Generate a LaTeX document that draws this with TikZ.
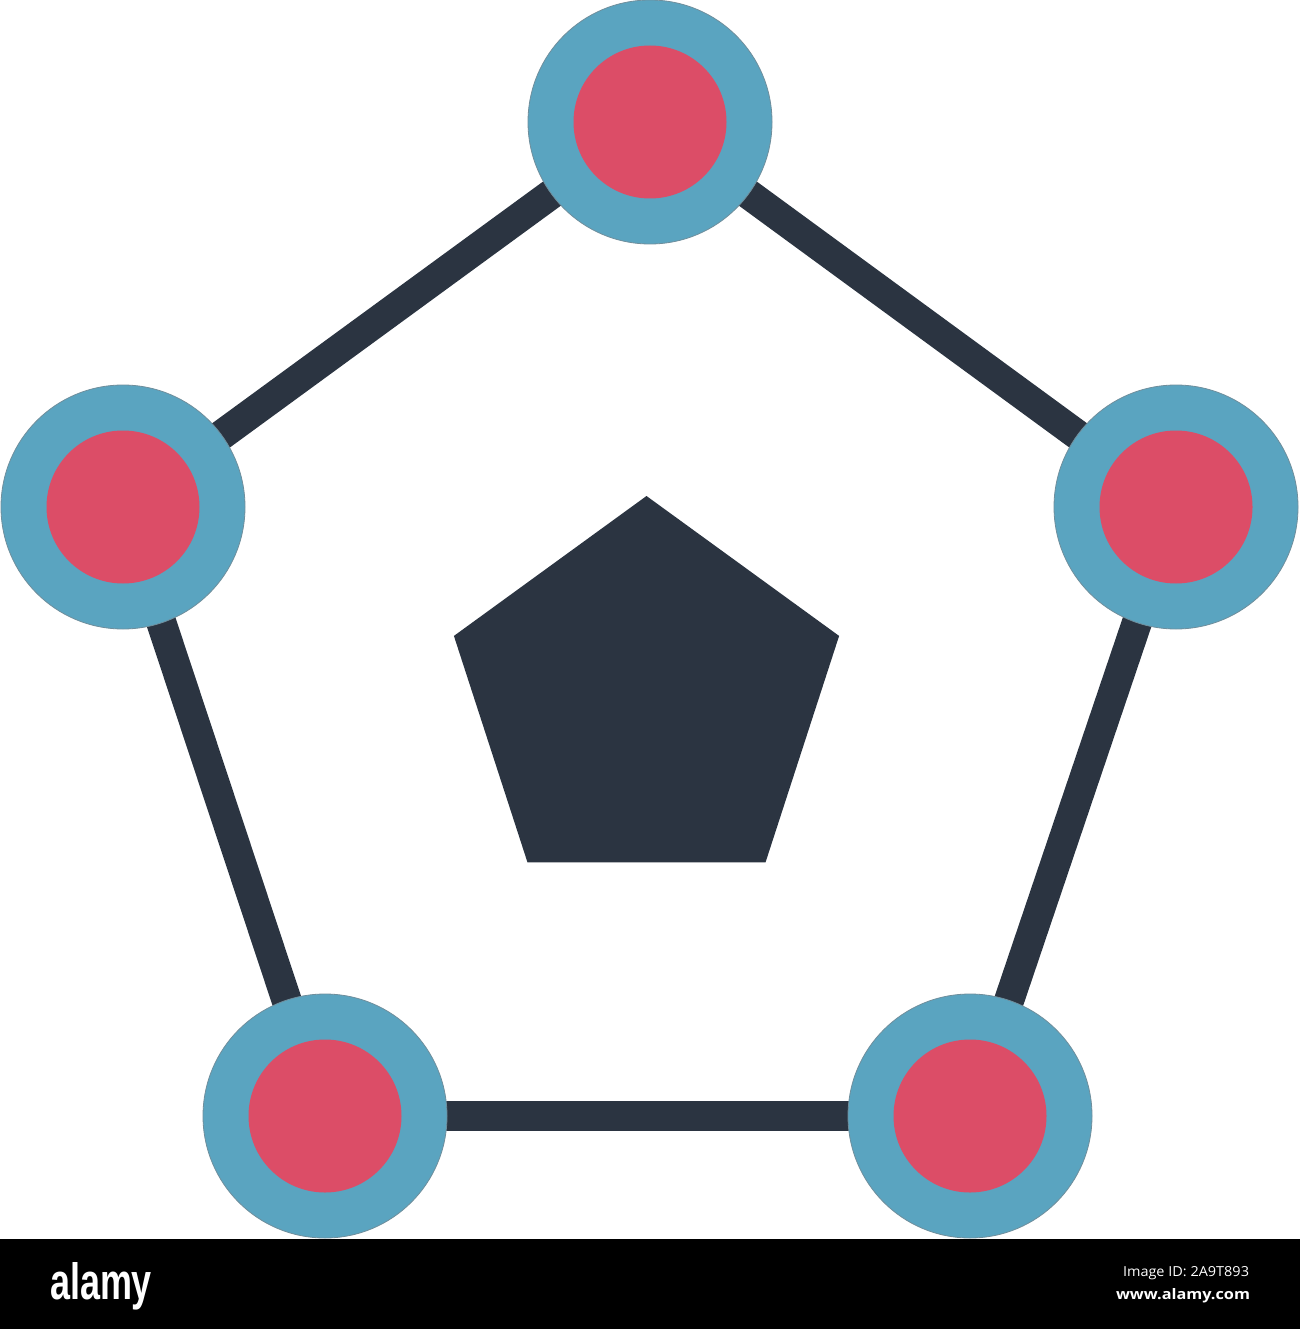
\documentclass[tikz,border=0pt]{standalone}
\usepackage{fontspec}
\setmainfont{Liberation Sans}
\newfontfamily\idfont{Open Sans}
\usetikzlibrary{shapes.geometric}
\definecolor{ringblue}{HTML}{5AA4C0}
\definecolor{corered}{HTML}{DC4D67}
\definecolor{navy}{HTML}{2B3441}
\definecolor{rimgray}{HTML}{6F8E9C}
\pgfdeclarelayer{paper}
\pgfdeclarelayer{background}
\pgfsetlayers{paper,background,main}
\tikzset{
  ring/.style={circle, fill=ringblue, draw=rimgray, line width=0.8pt, minimum size=244pt, inner sep=0pt, outer sep=0pt},
  core/.style={circle, fill=corered, minimum size=153pt, inner sep=0pt, outer sep=0pt},
  link/.style={draw=navy, line width=30pt, shorten <=-12pt, shorten >=-12pt},
  hubshape/.style={regular polygon, regular polygon sides=5, fill=navy, minimum size=405pt, inner sep=0pt, outer sep=0pt},
  bartext/.style={text=white, inner sep=0pt, outer sep=0pt, anchor=base west}
}
\begin{document}
\begin{tikzpicture}[x=1pt,y=-1pt]
  \useasboundingbox (0,0) rectangle (1300,1329);
  \begin{pgfonlayer}{paper}
    \fill[white] (0,0) rectangle (1300,1240);
  \end{pgfonlayer}
  % nodes
  \node[ring] (n1) at (650,122) {};
  \node[ring] (n2) at (1176,507) {};
  \node[ring] (n3) at (970,1116) {};
  \node[ring] (n4) at (325,1116) {};
  \node[ring] (n5) at (123,507) {};
  \node[core] (c1) at (n1) {};
  \node[core] (c2) at (n2) {};
  \node[core] (c3) at (n3) {};
  \node[core] (c4) at (n4) {};
  \node[core] (c5) at (n5) {};
  % connectors
  \begin{pgfonlayer}{background}
    \path[link] (n1) -- (n2);
    \path[link] (n2) -- (n3);
    \path[link] (n3) -- (n4);
    \path[link] (n4) -- (n5);
    \path[link] (n5) -- (n1);
  \end{pgfonlayer}
  % central pentagon
  \node[hubshape] (hub) at (646.5,698.5) {};
  % bottom bar
  \fill[black] (0,1239) rectangle (1300,1329);
  \node[bartext] (logo) at (50,1299) {\resizebox{102pt}{37pt}{\bfseries alamy}};
  \node[bartext] (imgid) at (1123,1276) {\idfont\resizebox{126pt}{10pt}{Image ID: 2A9T893}};
  \node[bartext] (www) at (1116,1299) {\idfont\resizebox{134pt}{11pt}{\bfseries www.alamy.com}};
\end{tikzpicture}
\end{document}
